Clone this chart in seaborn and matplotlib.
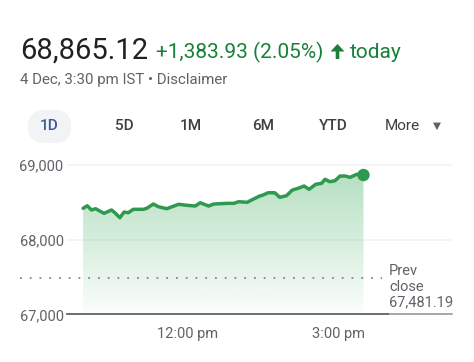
import numpy as np
import pandas as pd
import matplotlib

matplotlib.use("Agg")
import matplotlib.pyplot as plt
import seaborn as sns
from matplotlib.patches import FancyBboxPatch, FancyArrow, Polygon
from matplotlib.colors import LinearSegmentedColormap
from matplotlib.transforms import IdentityTransform

# intraday values (IST)
times = [
    "09:55", "10:00", "10:05", "10:10", "10:20", "10:29", "10:33", "10:39",
    "10:44", "10:49", "10:55", "11:07", "11:11", "11:19", "11:25", "11:35",
    "11:49", "11:59", "12:09", "12:15", "12:25", "12:31", "12:47", "12:55",
    "13:01", "13:11", "13:18", "13:26", "13:30", "13:36", "13:44", "13:50",
    "13:58", "14:05", "14:12", "14:19", "14:25", "14:33", "14:40", "14:44",
    "14:50", "14:56", "15:02", "15:08", "15:14", "15:22", "15:30",
]
prices = [
    68419, 68454, 68397, 68414, 68352, 68397, 68360, 68293,
    68370, 68360, 68406, 68406, 68419, 68477, 68441, 68414,
    68473, 68460, 68450, 68494, 68450, 68477, 68486, 68486,
    68508, 68500, 68540, 68584, 68597, 68628, 68628, 68567,
    68588, 68664, 68687, 68718, 68674, 68741, 68754, 68808,
    68776, 68789, 68852, 68852, 68834, 68875, 68865.12,
]
prev_close = 67481.19
y_ticks = [67000, 68000, 69000]
x_tick_times = ["12:00", "15:00"]
x_tick_labels = ["12:00 pm", "3:00 pm"]
tabs = ["1D", "5D", "1M", "6M", "YTD", "More"]

GREEN = "#2f9a4f"
TXT_GREEN = "#188038"
GRAY = "#5f6368"

df = pd.DataFrame({"time": times, "price": prices})
hm = df["time"].str.split(":", expand=True).astype(int)
df["minute"] = hm[0] * 60 + hm[1]

sns.set_style("white")
plt.rcParams["font.family"] = ["Roboto", "DejaVu Sans"]

W, H = 474, 362
fig = plt.figure(figsize=(W / 100, H / 100), dpi=100)


def px(x, y):
    return x / W, 1 - y / H


# ---- header
fig.text(*px(20, 59), "68,865.12", fontsize=21, color="#202124", va="baseline")
fig.text(*px(156, 58), "+1,383.93 (2.05%)", fontsize=15, color=TXT_GREEN, va="baseline")
# up arrow (pixel coords, y measured from bottom)
fig.patches.append(FancyArrow(337.5, H - 59, 0, 15, width=3.6, head_width=14,
                              head_length=7.5, length_includes_head=True,
                              transform=IdentityTransform(), color=TXT_GREEN, lw=0))
fig.text(*px(350, 58), "today", fontsize=15, color=TXT_GREEN, va="baseline")
fig.text(*px(20, 84), "4 Dec, 3:30 pm IST • Disclaimer", fontsize=10.8, color=GRAY,
         va="baseline")

# ---- range tabs
pill = FancyBboxPatch((28, H - 143), 43, 33, boxstyle="round,pad=0,rounding_size=16.5",
                      transform=IdentityTransform(), facecolor="#f1f3f5", edgecolor="none")
fig.patches.append(pill)
tab_x = [49, 124, 191, 263, 333, 402]
for lab, x in zip(tabs, tab_x):
    fig.text(*px(x, 126), lab, fontsize=11, ha="center", va="center",
             color="#3b5a9a" if lab == "1D" else "#3c4043",
             fontweight="medium" if lab != "More" else "normal")
fig.text(*px(437, 126), "▼", fontsize=7.5, ha="center", va="center", color=GRAY,
         family=["DejaVu Sans"])

# ---- chart
ax = fig.add_axes([67 / W, 47.7 / H, 385 / W, 156.8 / H])
x0, x1 = 575.8, 1035.8
y0, y1 = 67000, 69100

sns.lineplot(data=df, x="minute", y="price", ax=ax, color=GREEN, linewidth=2.5,
             zorder=5)
sns.scatterplot(data=df.tail(1), x="minute", y="price", ax=ax, color=GREEN, s=80,
                edgecolor="none", zorder=6)

# gradient area under the line
verts = np.column_stack([df["minute"], df["price"]])
verts = np.vstack([verts, [df["minute"].iloc[-1], y0], [df["minute"].iloc[0], y0]])
clip = Polygon(verts, closed=True, facecolor="none", edgecolor="none")
ax.add_patch(clip)
cmap = LinearSegmentedColormap.from_list(
    "fade", [(0.20, 0.66, 0.33, 0.02), (0.20, 0.66, 0.33, 0.36)])
grad = np.linspace(0, 1, 256).reshape(-1, 1)
im = ax.imshow(grad, extent=[df["minute"].min(), df["minute"].max(), y0, df["price"].max()],
               origin="lower", aspect="auto", cmap=cmap, zorder=2)
im.set_clip_path(clip)

# previous close
ax.axhline(prev_close, xmin=-0.122, xmax=0.818, clip_on=False, color="#80868b",
           linewidth=1.3, linestyle=(0, (1, 4.4)), zorder=3)
fig.text(*px(389, 264), "Prev\nclose\n{:,.2f}".format(prev_close), fontsize=10.5,
         color=GRAY, va="top", ha="left", linespacing=1.17)

ax.set_xlim(x0, x1)
ax.set_ylim(y0, y1)
ax.set_yticks(y_ticks)
ax.set_yticklabels(["{:,}".format(v) for v in y_ticks])
tick_min = [int(t[:2]) * 60 + int(t[3:]) for t in x_tick_times]
ax.set_xticks(tick_min)
ax.set_xticklabels(x_tick_labels)
ax.set_xlabel("")
ax.set_ylabel("")

ax.yaxis.grid(True, color="#f1f3f4", linewidth=1.2)
ax.set_axisbelow(True)
ax.tick_params(axis="y", length=0, pad=2.5, labelsize=10.5, labelcolor=GRAY)
ax.tick_params(axis="x", direction="out", length=7.5, width=1.3, color=GRAY, pad=2,
               labelsize=10.5, labelcolor=GRAY)
for side in ["top", "right", "left"]:
    ax.spines[side].set_visible(False)
ax.spines["bottom"].set_color(GRAY)
ax.spines["bottom"].set_linewidth(1.3)
ax.spines["bottom"].set_bounds(x0, 959.4)
ax.axhline(y0, xmin=0.834, xmax=1, color="#9aa0a6", linewidth=1.3, clip_on=False)

fig.savefig("out.png", dpi=100)
